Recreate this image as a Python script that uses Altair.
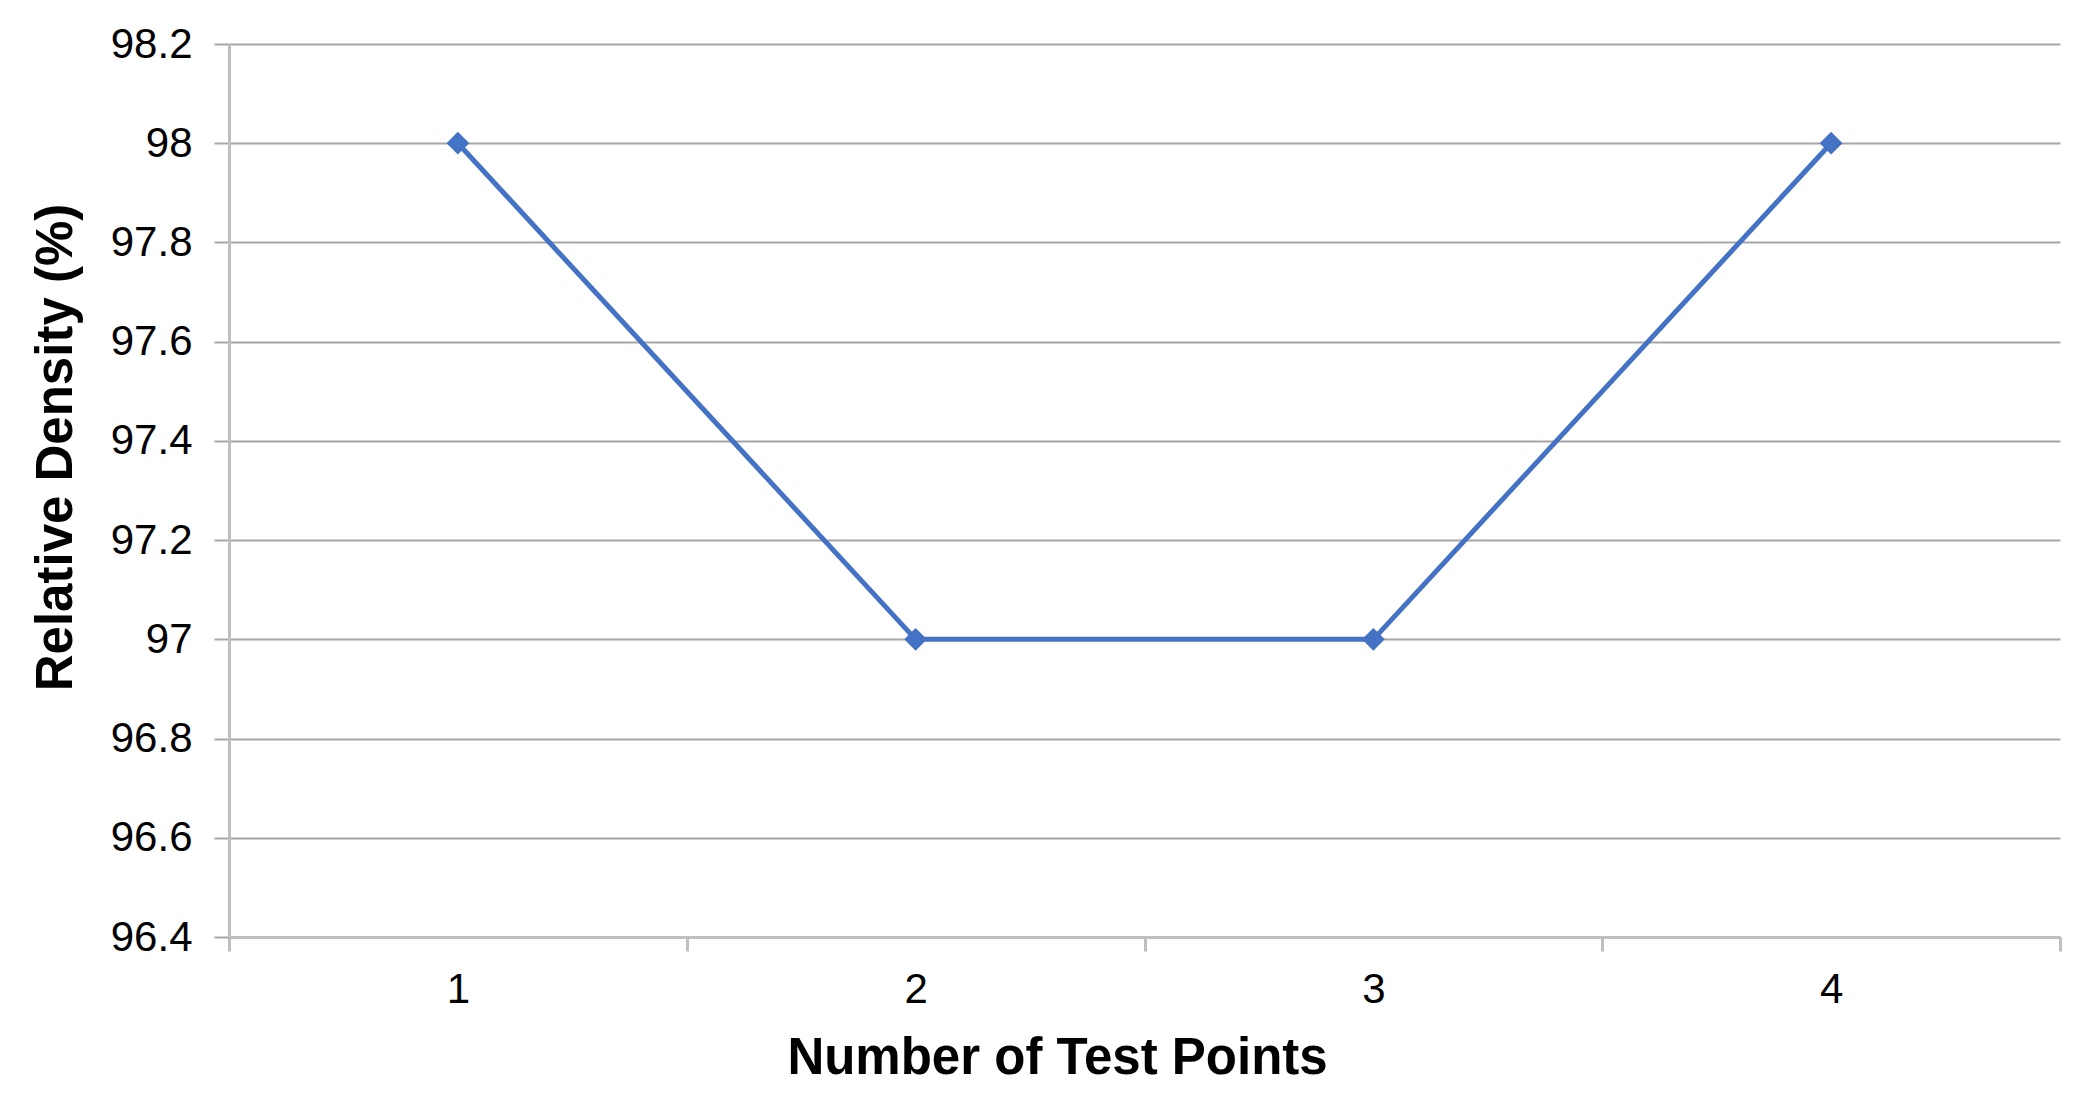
import altair as alt
import pandas as pd

test_points = ["1", "2", "3", "4"]
relative_density = [98.0, 97.0, 97.0, 98.0]
y_ticks = [96.4, 96.6, 96.8, 97.0, 97.2, 97.4, 97.6, 97.8, 98.0, 98.2]

df = pd.DataFrame({"point": test_points, "density": relative_density})

FONT = "Liberation Sans"
BLUE = "#4472C4"

x_enc = alt.X(
    "point:O",
    sort=test_points,
    scale=alt.Scale(type="band", paddingInner=0, paddingOuter=0),
    axis=alt.Axis(
        title="Number of Test Points",
        labelAngle=0,
        labelFontSize=42,
        labelFont=FONT,
        labelColor="#000000",
        labelPadding=18,
        tickBand="extent",
        tickSize=14,
        tickColor="#BFBFBF",
        tickWidth=3,
        domainColor="#BFBFBF",
        domainWidth=3,
        grid=False,
        titleFont=FONT,
        titleFontSize=51,
        titleFontWeight="bold",
        titleColor="#000000",
        titleX=828,
        titleY=121,
        titleBaseline="middle",
        titleAlign="center",
    ),
)

y_enc = alt.Y(
    "density:Q",
    scale=alt.Scale(domain=[96.4, 98.2], zero=False, nice=False),
    axis=alt.Axis(
        title="Relative Density (%)",
        values=y_ticks,
        labelExpr="datum.value + ''",
        labelFontSize=42,
        labelFont=FONT,
        labelColor="#000000",
        labelPadding=22,
        tickSize=15,
        tickColor="#A6A6A6",
        tickWidth=2,
        domainColor="#BFBFBF",
        domainWidth=3,
        grid=True,
        gridColor="#A6A6A6",
        gridWidth=2,
        titleFont=FONT,
        titleFontSize=51,
        titleFontWeight="bold",
        titleColor="#000000",
        titleX=-173,
        titleY=403,
        titleAngle=270,
        titleBaseline="middle",
        titleAlign="center",
    ),
)

base = alt.Chart(df).encode(x=x_enc, y=y_enc)

line = base.mark_line(color=BLUE, strokeWidth=5)
pts = base.mark_point(shape="diamond", filled=True, color=BLUE, size=520, opacity=1)

chart = (
    alt.layer(line, pts)
    .properties(
        width=1831,
        height=893,
        autosize=alt.AutoSizeParams(type="none"),
        padding={"left": 221, "top": 36, "right": 23, "bottom": 150},
        background="#FFFFFF",
    )
    .configure_view(stroke=None)
)

chart.save("out.html", embed_options={"renderer": "svg", "actions": False})
